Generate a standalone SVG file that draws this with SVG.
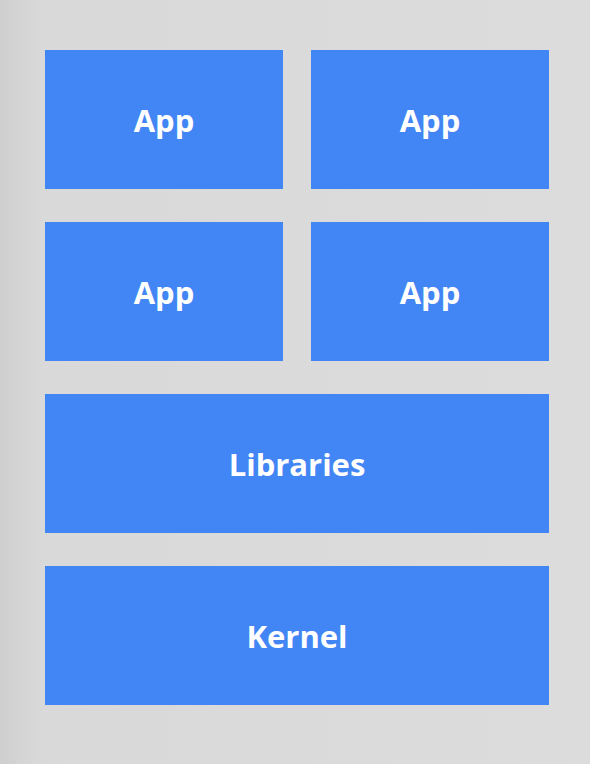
<svg xmlns="http://www.w3.org/2000/svg" width="590" height="764" viewBox="0 0 590 764">
<defs>
<linearGradient id="bg" x1="0" y1="0" x2="1" y2="0">
<stop offset="0" stop-color="#cfcfcf"/>
<stop offset="0.07" stop-color="#d9d9d9"/>
<stop offset="1" stop-color="#dcdcdc"/>
</linearGradient>
</defs>
<style>
.box{fill:#4285f4;}
.lbl{font-family:"Open Sans","Noto Sans",sans-serif;font-weight:bold;font-size:31px;fill:#ffffff;text-anchor:middle;dominant-baseline:central;}
</style>
<rect x="0" y="0" width="590" height="764" fill="url(#bg)"/>
<g id="app1"><rect class="box" x="45" y="50" width="238" height="139"/><text class="lbl" x="164" y="120">App</text></g>
<g id="app2"><rect class="box" x="311" y="50" width="238" height="139"/><text class="lbl" x="430" y="120">App</text></g>
<g id="app3"><rect class="box" x="45" y="222" width="238" height="139"/><text class="lbl" x="164" y="292">App</text></g>
<g id="app4"><rect class="box" x="311" y="222" width="238" height="139"/><text class="lbl" x="430" y="292">App</text></g>
<g id="libraries"><rect class="box" x="45" y="394" width="504" height="139"/><text class="lbl" x="297" y="464">Libraries</text></g>
<g id="kernel"><rect class="box" x="45" y="566" width="504" height="139"/><text class="lbl" x="297" y="636">Kernel</text></g>
<g id="connectors"></g>
</svg>
